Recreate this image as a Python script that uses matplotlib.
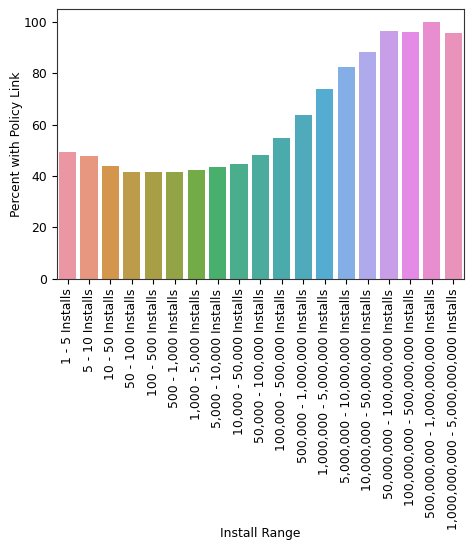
import matplotlib
matplotlib.use("Agg")
import matplotlib.pyplot as plt
import seaborn as sns

categories = ["1 - 5 Installs", "5 - 10 Installs", "10 - 50 Installs", "50 - 100 Installs",
              "100 - 500 Installs", "500 - 1,000 Installs", "1,000 - 5,000 Installs",
              "5,000 - 10,000 Installs", "10,000 - 50,000 Installs", "50,000 - 100,000 Installs",
              "100,000 - 500,000 Installs", "500,000 - 1,000,000 Installs",
              "1,000,000 - 5,000,000 Installs", "5,000,000 - 10,000,000 Installs",
              "10,000,000 - 50,000,000 Installs", "50,000,000 - 100,000,000 Installs",
              "100,000,000 - 500,000,000 Installs", "500,000,000 - 1,000,000,000 Installs",
              "1,000,000,000 - 5,000,000,000 Installs"]
values = [49.4, 47.7, 43.8, 41.6, 41.4, 41.6, 42.3, 43.3, 44.6, 48.0, 54.9, 63.7,
          73.8, 82.2, 88.3, 96.2, 96.0, 99.9, 95.6]

fs = 8.9
fig = plt.figure(figsize=(4.74, 5.5), dpi=100)
ax = fig.add_axes([0.12, 0.493, 0.859, 0.491])
pal = sns.husl_palette(len(categories), l=0.7)
sns.barplot(x=categories, y=values, hue=categories, palette=pal, legend=False,
            saturation=0.75, ax=ax)
ax.set_ylim(0, 105)
ax.set_xlabel("Install Range", fontsize=fs)
ax.xaxis.set_label_coords(0.5, -0.92)
ax.set_ylabel("Percent with Policy Link", fontsize=fs, labelpad=0.5)
ax.tick_params(axis="x", rotation=90, labelsize=fs)
ax.tick_params(axis="y", labelsize=fs)
for s in ax.spines.values():
    s.set_color("#333333")
fig.savefig("out.png", dpi=100)
